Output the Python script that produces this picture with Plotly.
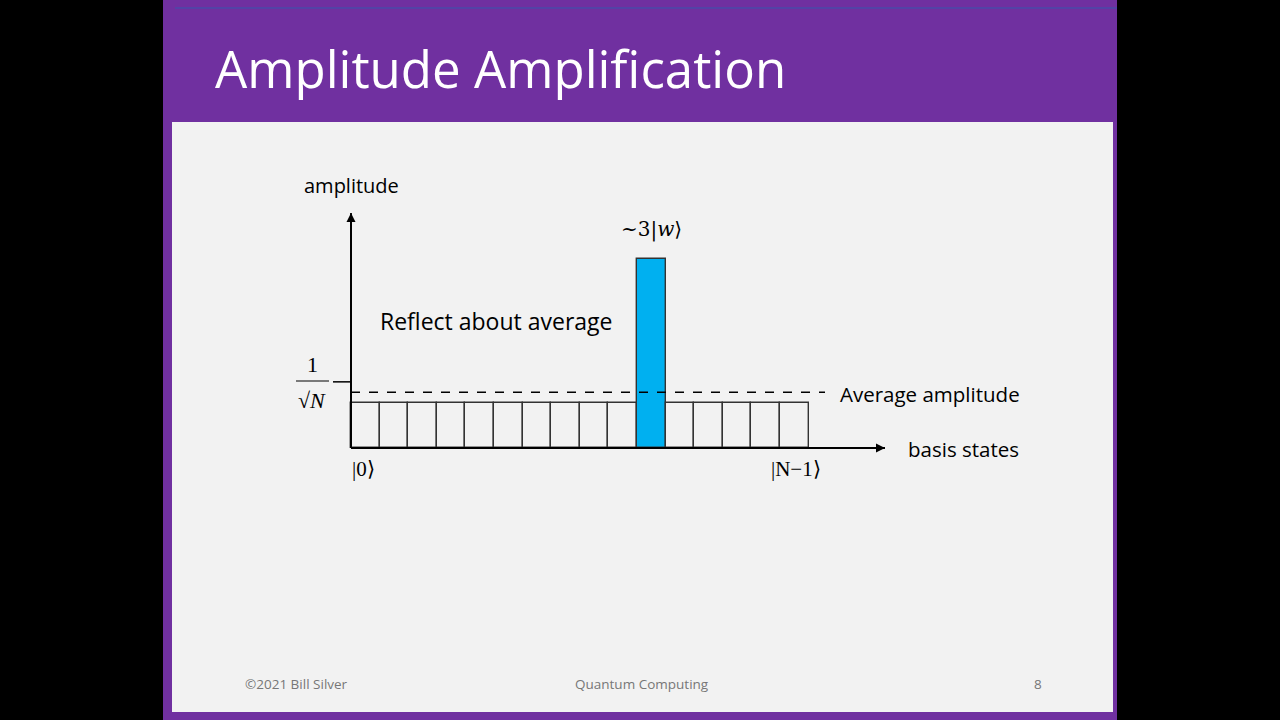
import plotly.graph_objects as go

# data
n_states = 16
marked_index = 10
base_amp = 1.0
marked_amp = 4.2
amplitudes = [marked_amp if i == marked_index else base_amp for i in range(n_states)]
average_amp = 1.24
inv_sqrt_n = 1.47
bar_colors = ["#00B0F0" if i == marked_index else "rgba(0,0,0,0)" for i in range(n_states)]

W, H = 1280, 720
X0, XU = 351, 28.6   # pixel of x=0, pixels per unit
Y0, YU = 448, 45     # pixel of y=0, pixels per unit
def dx(px): return (px - X0) / XU
def dy(py): return (Y0 - py) / YU
def pxf(px): return px / W
def pyf(py): return 1 - py / H

fig = go.Figure()
fig.add_trace(go.Bar(x=[i + 0.5 for i in range(n_states)], y=amplitudes, width=1,
                     marker=dict(color=bar_colors, line=dict(color="#333", width=1.4)),
                     hoverinfo="skip"))

shapes = [
    dict(type="rect", xref="paper", yref="paper", x0=pxf(163), x1=pxf(1117), y0=0, y1=1,
         fillcolor="#7030A0", line_width=0, layer="below"),
    dict(type="line", xref="paper", yref="paper", x0=pxf(175), x1=pxf(1117), y0=pyf(8), y1=pyf(8),
         line=dict(color="#4a4aa8", width=1.5), layer="below"),
    dict(type="rect", xref="paper", yref="paper", x0=pxf(172), x1=pxf(1113), y0=pyf(712), y1=pyf(122),
         fillcolor="#F2F2F2", line_width=0, layer="below"),
    dict(type="line", x0=0, x1=dx(825), y0=average_amp, y1=average_amp,
         line=dict(color="black", width=1.5, dash="dash")),
    dict(type="line", x0=dx(333), x1=0, y0=inv_sqrt_n, y1=inv_sqrt_n,
         line=dict(color="black", width=1.5)),
    dict(type="line", xref="paper", yref="paper", x0=pxf(296), x1=pxf(329), y0=pyf(381), y1=pyf(381),
         line=dict(color="black", width=1.2)),
]

ann = [
    dict(x=dx(885), y=0, ax=0, ay=0, axref="x", ayref="y", showarrow=True, arrowhead=2,
         arrowsize=1, arrowwidth=1.8, arrowcolor="black", text=""),
    dict(x=0, y=dy(213), ax=0, ay=0, axref="x", ayref="y", showarrow=True, arrowhead=2,
         arrowsize=1, arrowwidth=1.8, arrowcolor="black", text=""),
]
def txt(t, px, py, size, color="black", family="Open Sans, Lato", xanchor="left"):
    ann.append(dict(text=t, xref="paper", yref="paper", x=pxf(px), y=pyf(py), showarrow=False,
                    xanchor=xanchor, yanchor="middle", font=dict(size=size, color=color, family=family)))
txt("Amplitude Amplification", 213, 68, 51, "white")
txt("amplitude", 302, 186, 20)
txt("Reflect about average", 378, 321, 23)
txt("Average amplitude", 838, 394, 20.5)
txt("basis states", 906, 449, 20.5)
txt("~3|<i>w</i>⟩", 651, 229, 20, family="DejaVu Serif, Liberation Serif", xanchor="center")
txt("1", 312, 364, 22, family="Liberation Serif", xanchor="center")
txt("√<i>N</i>", 312, 400, 22, family="Liberation Serif", xanchor="center")
txt("|0⟩", 350, 469, 21, family="Liberation Serif")
txt("|N−1⟩", 769, 469, 21, family="Liberation Serif")
txt("©2021 Bill Silver", 243, 684, 13.5, "#777")
txt("Quantum Computing", 642, 684, 13.5, "#777", xanchor="center")
txt("8", 1038, 684, 13.5, "#777", xanchor="center")

fig.update_layout(width=W, height=H, margin=dict(l=0, r=0, t=0, b=0),
                  paper_bgcolor="black", plot_bgcolor="rgba(0,0,0,0)", showlegend=False,
                  shapes=shapes, annotations=ann, bargap=0,
                  xaxis=dict(range=[dx(0), dx(W)], visible=False, fixedrange=True),
                  yaxis=dict(range=[dy(H), dy(0)], visible=False, fixedrange=True))
fig.add_shape(type="line", x0=0, x1=0, y0=0, y1=dy(213), line=dict(color="black", width=1.8))
fig.add_shape(type="line", x0=0, x1=dx(885), y0=0, y1=0, line=dict(color="black", width=1.8))
fig.write_html("out.html", config={"displayModeBar": False},
               post_script="document.body.style.margin='0';document.body.style.background='black';document.body.style.overflow='hidden';")
